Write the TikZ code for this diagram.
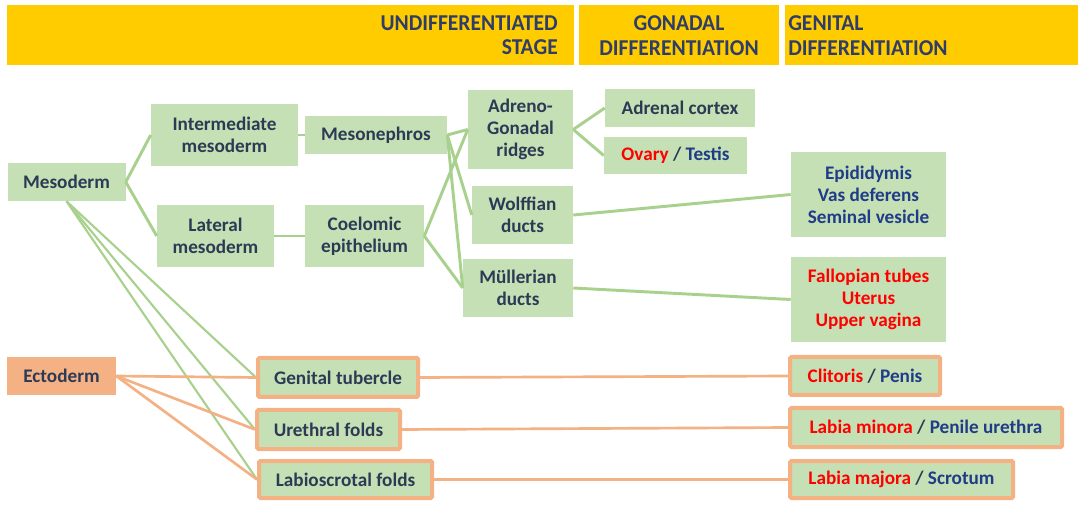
\documentclass[tikz,border=0pt]{standalone}
\usepackage{fontspec}
\setmainfont{Carlito}
\newfontfamily\hdrfont{Carlito}[FakeStretch=0.95]
\definecolor{hdr}{HTML}{FFCC00}
\definecolor{hdrtxt}{HTML}{2F3D68}
\definecolor{gfill}{HTML}{C5E0B4}
\definecolor{gline}{HTML}{A9D18E}
\definecolor{oline}{HTML}{F4B183}
\definecolor{txt}{HTML}{2E3A55}
\definecolor{bl}{HTML}{1F3C88}
\definecolor{rd}{HTML}{FF0000}
\begin{document}
\begin{tikzpicture}[x=0.75pt,y=-0.75pt,
  sz/.style 2 args={minimum width=#1*0.75pt, minimum height=#2*0.75pt},
  gbox/.style={fill=gfill, inner sep=0pt, align=center, text=txt,
    font=\fontsize{14.4}{16.5}\selectfont\bfseries},
  obox/.style={gbox, draw=oline, line width=3pt, rounded corners=1pt},
  ebox/.style={gbox, fill=oline},
  htext/.style={text=hdrtxt, inner sep=0pt, font=\hdrfont\fontsize{17}{18.3}\selectfont\bfseries},
  gcon/.style={draw=gline, line width=2.2pt},
  gthin/.style={draw=gline, line width=1.6pt},
  ocon/.style={draw=oline, line width=2pt}]
\useasboundingbox (0,0) rectangle (1084,505);
\fill[white] (0,0) rectangle (1084,505);
% header
\fill[hdr] (7,5) rectangle (574,65);
\fill[hdr] (579,5) rectangle (779,65);
\fill[hdr] (785,5) rectangle (1078,65);
\node[htext, anchor=east, align=right] (h1) at (558,35.5) {UNDIFFERENTIATED\\STAGE};
\node[htext, align=center] (h2) at (679,35.5) {GONADAL\\DIFFERENTIATION};
\node[htext, anchor=west, align=left] (h3) at (788,35.5) {GENITAL\\DIFFERENTIATION};
% nodes
\node[gbox, sz={118}{38}] (meso) at (66.5,182) {Mesoderm};
\node[gbox, sz={147}{62}] (inter) at (224.5,135) {Intermediate\\mesoderm};
\node[gbox, sz={142}{38}] (neph) at (376,135) {Mesonephros};
\node[gbox, sz={117}{62}] (lat) at (215.5,236) {Lateral\\mesoderm};
\node[gbox, sz={119}{62}] (coel) at (364.5,236) {Coelomic\\epithelium};
\node[gbox, sz={105}{79}] (adr) at (520.5,129.5) {Adreno-\\Gonadal\\ridges};
\node[gbox, sz={150}{38}] (cortex) at (680,108) {Adrenal cortex};
\node[gbox, sz={143}{37}] (ovary) at (675.5,155.5) {\textcolor{rd}{Ovary} / \textcolor{bl}{Testis}};
\node[gbox, sz={101}{58}] (wolff) at (522.5,215) {Wolffian\\ducts};
\node[gbox, sz={110}{58}] (mull) at (518,288) {Müllerian\\ducts};
\node[gbox, sz={155}{85}, text=bl] (epid) at (868.5,194.5) {Epididymis\\Vas deferens\\Seminal vesicle};
\node[gbox, sz={155}{85}, text=rd] (fallop) at (868.5,299.5) {Fallopian tubes\\Uterus\\Upper vagina};
\node[ebox, sz={109}{38}] (ecto) at (61.5,376) {Ectoderm};
\node[obox, sz={160}{39}] (gt) at (338,377.5) {Genital tubercle};
\node[obox, sz={143}{39}] (uf) at (328.5,429.5) {Urethral folds};
\node[obox, sz={173}{37}] (lsf) at (345.5,479.5) {Labioscrotal folds};
\node[obox, sz={150}{38}] (clit) at (865,376) {\textcolor{rd}{Clitoris} / \textcolor{bl}{Penis}};
\node[obox, sz={272}{39}] (lmin) at (926,427.5) {\textcolor{rd}{Labia minora} / \textcolor{bl}{Penile urethra}};
\node[obox, sz={223}{37}] (lmaj) at (901.5,479.5) {\textcolor{rd}{Labia majora} / \textcolor{bl}{Scrotum}};
% green connectors
\draw[gcon] (meso.east) -- (inter.west);
\draw[gcon] (meso.east) -- (lat.west);
\draw[gcon] (inter.east) -- (neph.west);
\draw[gcon] (lat.east) -- (coel.west);
\draw[gcon] (neph.east) -- (adr.west);
\draw[gcon] (neph.east) -- (wolff.west);
\draw[gcon] (neph.east) -- (mull.west);
\draw[gcon] (coel.east) -- (adr.west);
\draw[gcon] (coel.east) -- (mull.west);
\draw[gcon] (adr.east) -- (cortex.west);
\draw[gcon] (adr.east) -- (ovary.west);
\draw[gcon] (wolff.east) -- (epid.west);
\draw[gcon] (mull.east) -- (fallop.west);
\draw[gthin] (meso.south) -- (gt.west);
\draw[gthin] (meso.south) -- (uf.west);
\draw[gthin] (meso.south) -- (lsf.west);
% orange connectors
\draw[ocon] (ecto.east) -- (gt.west);
\draw[ocon] (ecto.east) -- (uf.west);
\draw[ocon] (ecto.east) -- (lsf.west);
\draw[ocon] (gt.east) -- (clit.west);
\draw[ocon] (uf.east) -- (lmin.west);
\draw[ocon] (lsf.east) -- (lmaj.west);
\end{tikzpicture}
\end{document}
